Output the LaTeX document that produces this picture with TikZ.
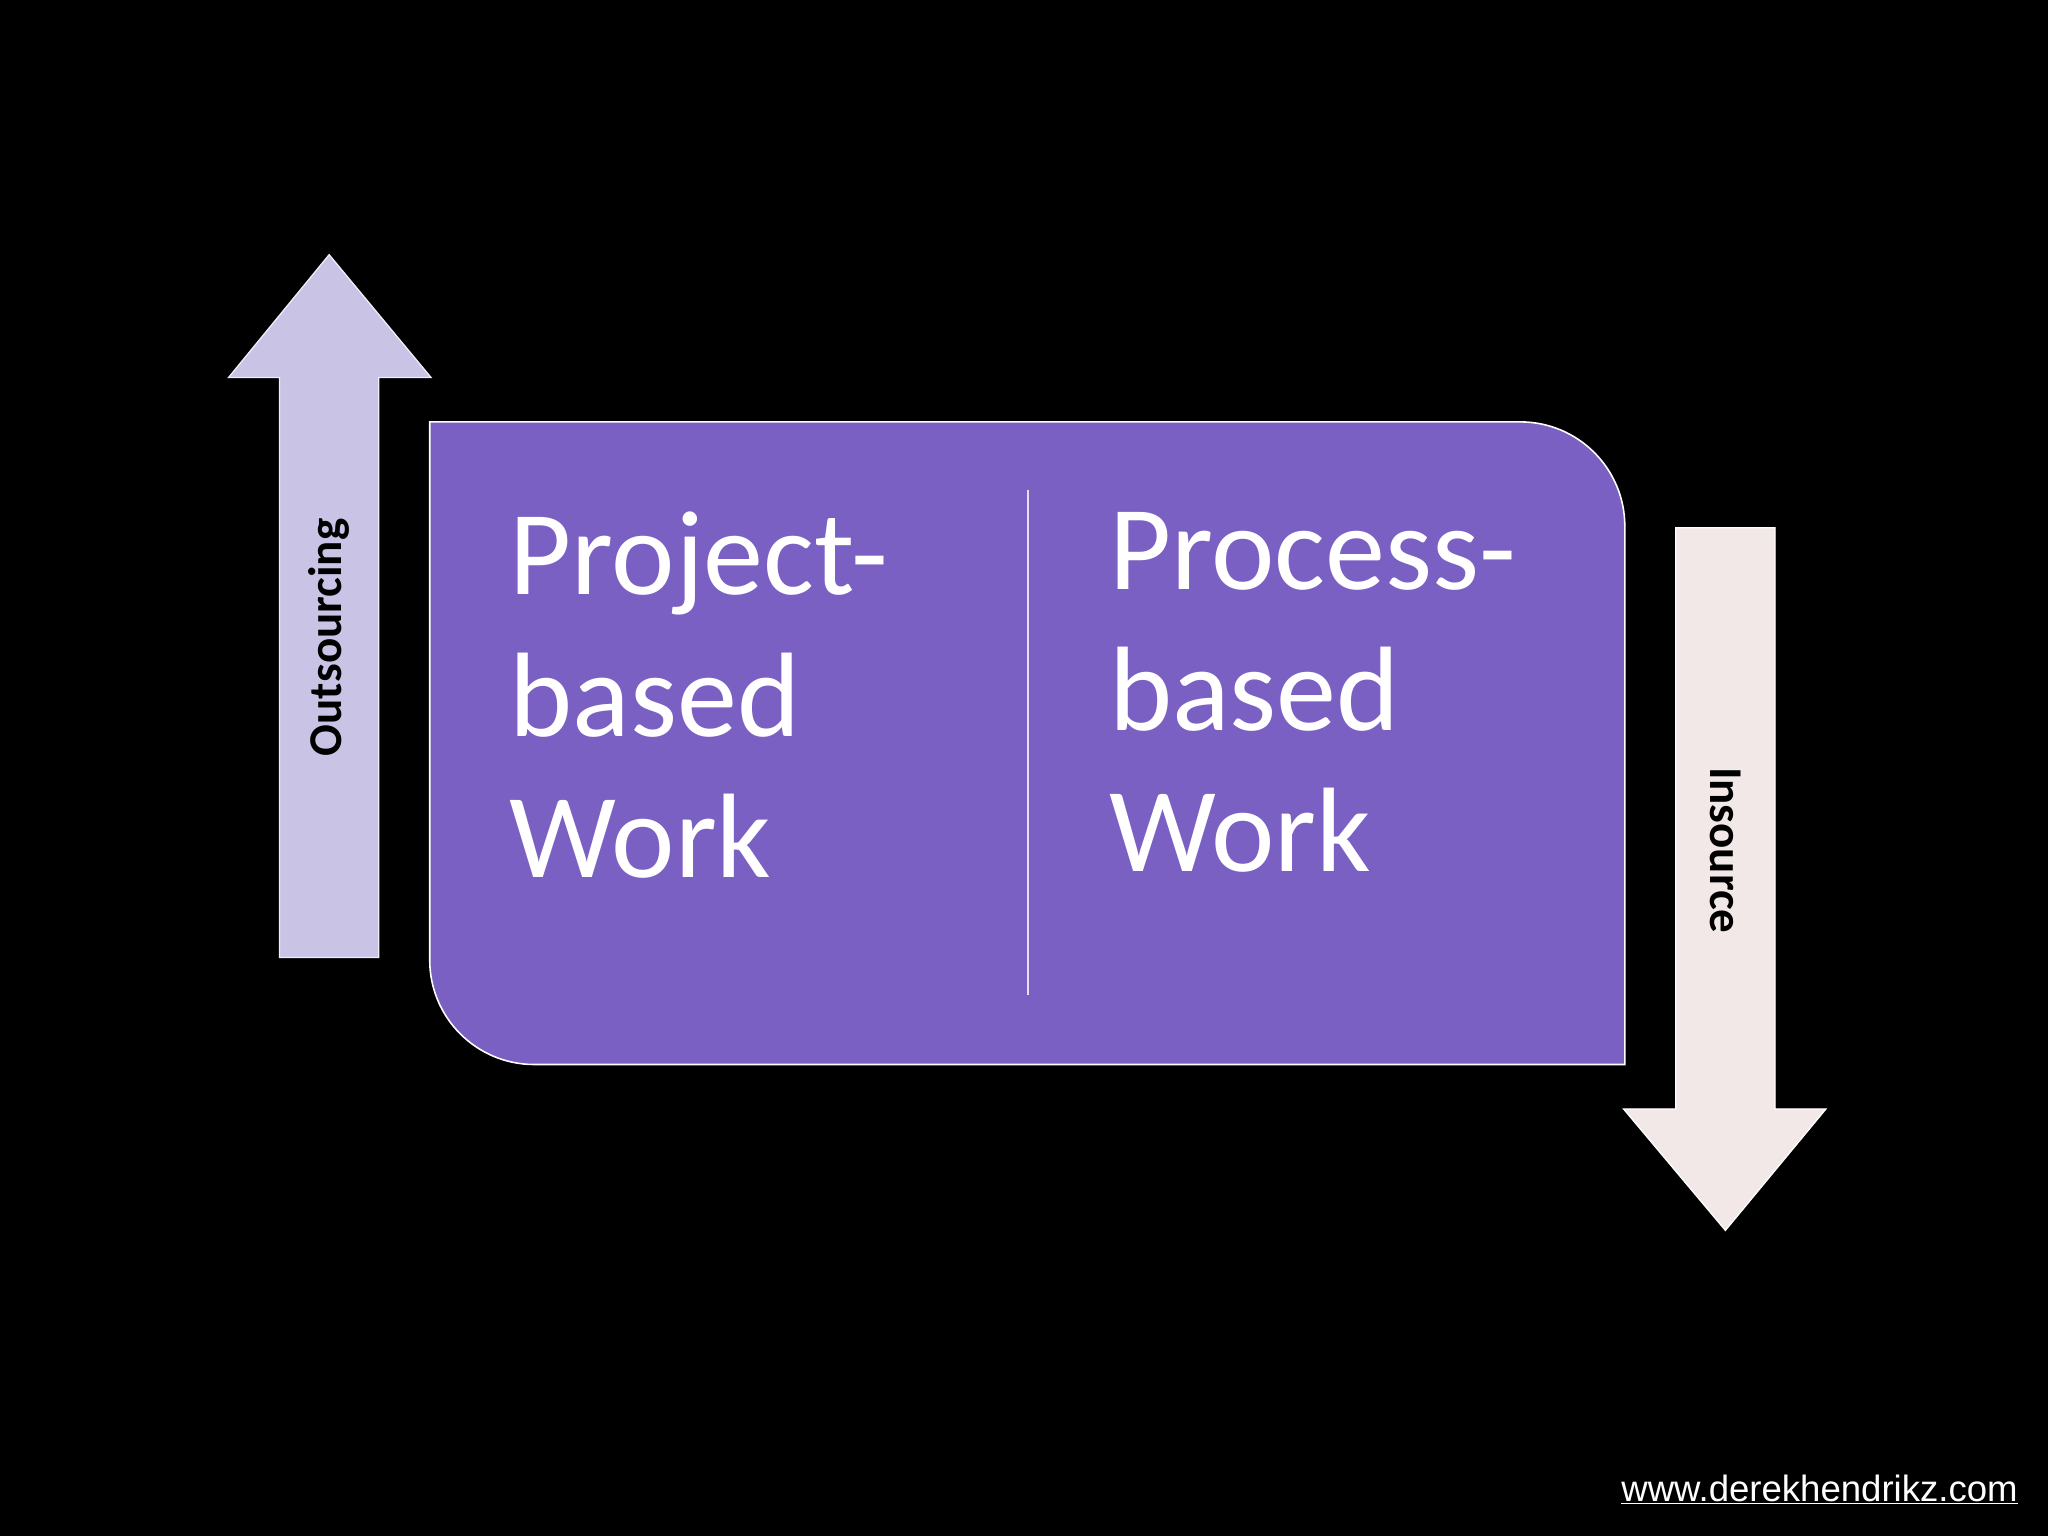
\documentclass[tikz,border=0pt]{standalone}
\usepackage{fontspec}
\setmainfont{Carlito}
\newfontfamily\urlfont{Liberation Sans}
\definecolor{boxc}{HTML}{7B60C4}
\definecolor{upc}{HTML}{C9C3E6}
\definecolor{downc}{HTML}{F2E8E8}
\begin{document}
\begin{tikzpicture}[x=1pt,y=-1pt,
  big/.style={text=white,font=\fontsize{92}{108}\selectfont,align=left,anchor=north west,inner sep=0}]
\fill[black] (0,0) rectangle (1568,1176);
\useasboundingbox (0,0) rectangle (1568,1176);
% main box
\draw[white,line width=1.2pt,fill=boxc] (329,323) -- (1164,323) arc[start angle=90,end angle=0,x radius=80,y radius=-80] -- (1244,815) -- (409,815) arc[start angle=270,end angle=180,x radius=80,y radius=-80] -- cycle;
\coordinate (d1) at (787,375); \coordinate (d2) at (787,762);
\draw[white!80!boxc,line width=1pt] (d1) -- (d2);
\node[big] (pj) at (390,392) {Project-\\based\\Work};
\node[big] (pr) at (849,392) {Process-\\based\\Work};
% up arrow
\draw[white!70!upc,line width=1pt,fill=upc] (214,733) -- (214,289) -- (175,289) -- (252,195) -- (330,289) -- (290,289) -- (290,733) -- cycle;
\node[rotate=90,font=\bfseries\fontsize{36}{40}\selectfont] (out) at (252,488) {Outsourcing};
% down arrow
\draw[white,line width=1pt,fill=downc] (1283,404) -- (1359,404) -- (1359,849) -- (1398,849) -- (1321,942) -- (1243,849) -- (1283,849) -- cycle;
\node[rotate=-90,font=\bfseries\fontsize{36}{40}\selectfont] (ins) at (1321,651) {Insource};
\node[anchor=south east,inner sep=0,text=white,font=\urlfont\fontsize{28}{30}\selectfont] (url) at (1545,1152) {\underline{www.derekhendrikz.com}};
\end{tikzpicture}
\end{document}
